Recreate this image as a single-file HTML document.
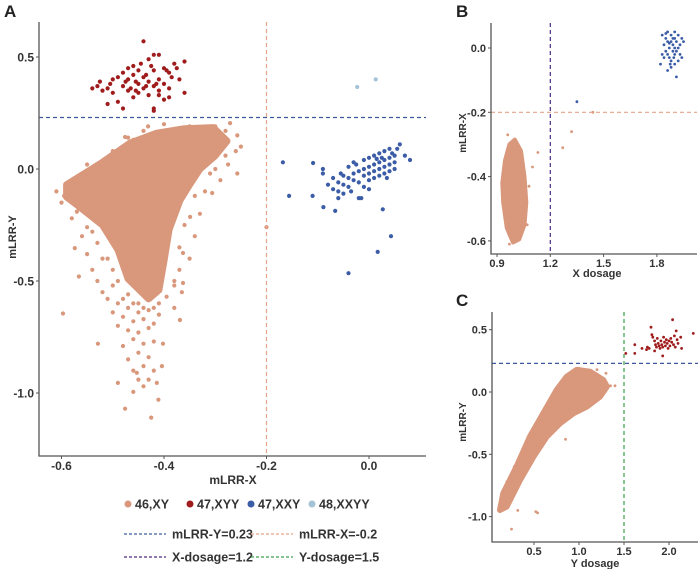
<!DOCTYPE html>
<html><head><meta charset="utf-8"><style>
html,body{margin:0;padding:0;background:#fff;}
svg{display:block;font-family:"Liberation Sans",sans-serif;font-weight:bold;}
</style></head><body>
<svg id="fig" width="700" height="569" viewBox="0 0 700 569">
<g id="pa"></g>
<g id="pb"></g>
<g id="pc"></g>
<g id="legend"></g>
</svg>
<script>
// ---------- Panel A data ----------
const aXTicks = [-0.6, -0.4, -0.2, 0.0];
const aYTicks = [0.5, 0.0, -0.5, -1.0];
const aOrangeBlob = [[-0.59,-0.07],[-0.52,0.03],[-0.466,0.116],[-0.414,0.16],[-0.36,0.18],[-0.304,0.185],[-0.277,0.125],[-0.30,0.06],[-0.33,0.0],[-0.35,-0.07],[-0.369,-0.14],[-0.39,-0.27],[-0.40,-0.41],[-0.41,-0.54],[-0.43,-0.58],[-0.47,-0.49],[-0.49,-0.36],[-0.52,-0.25],[-0.57,-0.16],[-0.59,-0.125]];
const aOrangePts = [[-0.597,-0.645],[-0.529,-0.78],[-0.566,-0.48],[-0.574,-0.353],[-0.61,-0.10],[-0.55,0.02],[-0.476,0.143],[-0.431,0.19],[-0.271,0.205],[-0.257,0.15],[-0.257,-0.02],[-0.275,0.02],[-0.306,-0.107],[-0.349,-0.214],[-0.363,-0.375],[-0.363,-0.509],[-0.38,-0.52],[-0.369,-0.674],[-0.402,-0.78],[-0.404,-0.88],[-0.411,-1.03],[-0.425,-1.11],[-0.476,-1.07],[-0.49,-0.955],[-0.46,-0.995],[-0.44,-0.97],[-0.453,-0.91],[-0.43,-0.94],[-0.414,-0.955],[-0.49,-0.6],[-0.47,-0.62],[-0.45,-0.6],[-0.43,-0.63],[-0.41,-0.6],[-0.48,-0.66],[-0.46,-0.68],[-0.44,-0.67],[-0.42,-0.69],[-0.47,-0.72],[-0.45,-0.73],[-0.43,-0.71],[-0.49,-0.7],[-0.46,-0.76],[-0.44,-0.78],[-0.48,-0.79],[-0.42,-0.77],[-0.45,-0.82],[-0.47,-0.85],[-0.43,-0.84],[-0.44,-0.88],[-0.46,-0.9],[-0.42,-0.9],[-0.45,-0.94],[-0.5,-0.64],[-0.51,-0.58],[-0.395,-0.57],[-0.38,-0.62],[-0.52,-0.55],[-0.53,-0.5],[-0.54,-0.45],[-0.52,-0.4],[-0.55,-0.38],[-0.56,-0.3],[-0.54,-0.28],[-0.58,-0.22],[-0.6,-0.15],[-0.595,-0.12],[-0.33,-0.2],[-0.34,-0.3],[-0.35,-0.4],[-0.37,-0.45],[-0.365,-0.55],[-0.32,-0.1],[-0.3,0.0],[-0.29,-0.05],[-0.26,0.08],[-0.25,0.1],[-0.3,0.19],[-0.35,0.19],[-0.4,0.2],[-0.46,0.13],[-0.5,0.05],[-0.53,-0.02],[-0.56,-0.05],[-0.2,-0.26],[-0.48,-0.58],[-0.44,-0.62],[-0.5,-0.52],[-0.41,-0.65],[-0.47,-0.56],[-0.43,-0.58],[-0.45,-0.64],[-0.46,-0.6],[-0.42,-0.62],[-0.49,-0.5],[-0.5,-0.45],[-0.51,-0.4],[-0.53,-0.33],[-0.55,-0.26],[-0.57,-0.19],[-0.38,-0.5],[-0.37,-0.35],[-0.36,-0.25],[-0.34,-0.12],[-0.31,-0.02],[-0.28,0.06],[-0.58,-0.05],[-0.54,0.0],[-0.5,0.08],[-0.47,0.14],[-0.44,0.17],[-0.28,0.17]];
const aRedPts = [[-0.44,0.57],[-0.42,0.51],[-0.41,0.51],[-0.36,0.48],[-0.38,0.47],[-0.46,0.46],[-0.47,0.45],[-0.43,0.49],[-0.45,0.44],[-0.42,0.44],[-0.40,0.45],[-0.39,0.43],[-0.37,0.40],[-0.48,0.43],[-0.49,0.41],[-0.50,0.40],[-0.47,0.40],[-0.46,0.42],[-0.44,0.41],[-0.43,0.39],[-0.41,0.40],[-0.40,0.38],[-0.42,0.37],[-0.45,0.38],[-0.48,0.37],[-0.51,0.36],[-0.53,0.37],[-0.54,0.36],[-0.52,0.35],[-0.50,0.34],[-0.47,0.35],[-0.44,0.36],[-0.41,0.35],[-0.39,0.36],[-0.36,0.34],[-0.43,0.33],[-0.46,0.32],[-0.49,0.30],[-0.51,0.29],[-0.48,0.27],[-0.42,0.26],[-0.42,0.27],[-0.40,0.31],[-0.39,0.32],[-0.45,0.34],[-0.455,0.39],[-0.435,0.42],[-0.415,0.38],[-0.475,0.39],[-0.505,0.38],[-0.525,0.39],[-0.465,0.36],[-0.385,0.41],[-0.395,0.44],[-0.425,0.46],[-0.445,0.47],[-0.375,0.45],[-0.435,0.37],[-0.455,0.35],[-0.41,0.33]];
const aBluePts = [[-0.168,0.03],[-0.156,-0.12],[-0.109,0.027],[-0.11,-0.12],[-0.089,-0.17],[-0.066,-0.187],[0.027,-0.18],[0.043,-0.30],[0.017,-0.37],[-0.04,-0.465],[-0.09,0.0],[-0.09,-0.02],[-0.08,-0.07],[-0.07,-0.09],[-0.06,-0.06],[-0.06,-0.1],[-0.05,-0.03],[-0.05,-0.07],[-0.05,-0.11],[-0.04,-0.04],[-0.04,0.01],[-0.04,-0.08],[-0.03,-0.02],[-0.03,-0.05],[-0.03,0.03],[-0.02,-0.01],[-0.02,-0.06],[-0.02,-0.13],[-0.01,0.0],[-0.01,-0.03],[-0.01,-0.08],[-0.01,0.04],[0.0,0.01],[0.0,-0.02],[0.0,-0.05],[0.0,0.05],[0.01,0.02],[0.01,-0.01],[0.01,-0.04],[0.01,0.06],[0.02,0.0],[0.02,0.03],[0.02,-0.03],[0.02,0.07],[0.03,0.01],[0.03,0.04],[0.03,-0.02],[0.03,0.08],[0.04,0.02],[0.04,0.05],[0.04,-0.01],[0.04,0.09],[0.05,0.03],[0.05,0.06],[0.05,0.0],[0.06,0.11],[0.07,0.06],[0.08,0.04],[-0.015,-0.13],[-0.06,-0.13],[0.045,0.07],[0.025,0.05],[-0.025,0.02],[0.035,-0.04],[0.0,-0.09],[-0.07,-0.04],[-0.055,-0.02],[0.015,0.045],[-0.035,-0.1],[0.055,0.09]];
const aLightBluePts = [[-0.023,0.366],[0.013,0.40]];
const aHLine = 0.23, aVLine = -0.2;

// ---------- Panel B data ----------
const bXTicks = [0.9, 1.2, 1.5, 1.8];
const bYTicks = [0.0, -0.2, -0.4, -0.6];
const bOrangeBlob = [[1.0,-0.285],[1.035,-0.32],[1.055,-0.40],[1.065,-0.48],[1.055,-0.55],[1.025,-0.595],[0.99,-0.605],[0.955,-0.56],[0.935,-0.48],[0.93,-0.42],[0.945,-0.35],[0.97,-0.30]];
const bOrangePts = [[1.32,-0.26],[1.27,-0.31],[1.13,-0.325],[1.44,-0.2],[0.96,-0.27],[1.1,-0.37],[1.07,-0.55],[0.97,-0.61],[1.08,-0.43]];
const bBluePts = [[1.83,0.04],[1.85,0.03],[1.86,0.05],[1.88,0.04],[1.9,0.05],[1.92,0.04],[1.94,0.03],[1.95,0.02],[1.84,0.01],[1.86,0.02],[1.87,0.0],[1.88,0.02],[1.89,0.01],[1.9,0.03],[1.91,0.02],[1.92,0.0],[1.93,0.01],[1.85,-0.01],[1.86,-0.02],[1.87,-0.03],[1.89,-0.01],[1.9,-0.02],[1.91,-0.01],[1.88,-0.04],[1.9,-0.05],[1.84,-0.03],[1.82,-0.05],[1.83,-0.02],[1.86,-0.07],[1.88,-0.06],[1.92,-0.04],[1.94,-0.03],[1.91,-0.09],[1.89,0.03],[1.87,0.015],[1.9,0.0],[1.93,-0.02],[1.85,0.045],[1.895,-0.03],[1.875,-0.05],[1.35,-0.167]];
const bHLine = -0.2, bVLine = 1.2;

// ---------- Panel C data ----------
const cXTicks = [0.5, 1.0, 1.5, 2.0];
const cYTicks = [0.5, 0.0, -0.5, -1.0];
const cOrangeBlob = [[0.122,-0.947],[0.159,-0.813],[0.307,-0.599],[0.456,-0.358],[0.603,-0.171],[0.752,0.016],[0.863,0.123],[0.974,0.177],[1.122,0.163],[1.27,0.096],[1.31,0.043],[1.233,-0.037],[1.085,-0.118],[0.937,-0.171],[0.789,-0.251],[0.641,-0.358],[0.493,-0.519],[0.344,-0.706],[0.196,-0.92]];
const cOrangePts = [[0.25,-1.1],[0.32,-0.95],[0.52,-0.96],[0.54,-0.97],[0.13,-0.95],[0.2,-0.72],[0.22,-0.8],[0.28,-0.6],[1.35,0.05],[1.4,0.05],[1.3,0.15],[1.2,0.18],[0.5,-0.35],[0.85,-0.38],[1.0,0.19]];
const cRedPts = [[1.52,0.31],[1.62,0.38],[1.62,0.31],[1.7,0.35],[1.75,0.34],[1.76,0.36],[1.78,0.35],[1.8,0.52],[1.81,0.46],[1.82,0.44],[1.84,0.41],[1.85,0.38],[1.86,0.36],[1.87,0.43],[1.88,0.39],[1.89,0.37],[1.9,0.35],[1.91,0.41],[1.92,0.38],[1.93,0.36],[1.94,0.44],[1.95,0.4],[1.96,0.37],[1.97,0.42],[1.98,0.39],[1.99,0.35],[2.0,0.41],[2.01,0.37],[2.02,0.43],[2.03,0.4],[2.04,0.58],[2.05,0.38],[2.06,0.45],[2.07,0.36],[2.08,0.49],[2.09,0.42],[2.1,0.39],[2.13,0.44],[2.14,0.35],[2.27,0.47],[1.93,0.29],[1.84,0.33]];
const cHLine = 0.23, cVLine = 1.5;

const ORANGE = "#d9977b", RED = "#a01c1c", BLUE = "#3b5ca6", LBLUE = "#a5c3d8";
const NS = "http://www.w3.org/2000/svg";
function mk(parent, tag, attrs, text) {
  const e = document.createElementNS(NS, tag);
  for (const k in attrs) e.setAttribute(k, attrs[k]);
  if (text !== undefined) e.textContent = text;
  parent.appendChild(e);
  return e;
}
function lin(d0, d1, r0, r1) { return v => r0 + (v - d0) / (d1 - d0) * (r1 - r0); }

function panel(g, cfg) {
  const X = cfg.x, Y = cfg.y;
  const pts = cfg.blob.map(p => X(p[0]).toFixed(1) + "," + Y(p[1]).toFixed(1)).join(" ");
  const poly = mk(g, "polygon", {points: pts, fill: ORANGE, stroke: ORANGE, "stroke-width": cfg.blobStroke, "stroke-linejoin": "round"});
  
  
  cfg.series.forEach(s => {
    s.data.forEach(p => {
      const c = mk(g, "circle", {cx: X(p[0]).toFixed(1), cy: Y(p[1]).toFixed(1), r: cfg.r, fill: s.color});
      
      
    });
  });
  const hl = mk(g, "line", {x1: cfg.x0, x2: cfg.x1, y1: Y(cfg.h.v), y2: Y(cfg.h.v), stroke: cfg.h.color, "stroke-width": 1.2, "stroke-dasharray": "4,3"});
  
  
  const vl = mk(g, "line", {x1: X(cfg.v.v), x2: X(cfg.v.v), y1: cfg.y0, y2: cfg.y1, stroke: cfg.v.color, "stroke-width": 1.2, "stroke-dasharray": "4,3"});
  
  
  const ax = mk(g, "path", {d: `M${cfg.x0},${cfg.y0}V${cfg.y1}H${cfg.x1}`, fill: "none", stroke: "#555", "stroke-width": 1.3});
  
  
  cfg.xt.forEach(t => {
    mk(g, "line", {x1: X(t), x2: X(t), y1: cfg.y1, y2: cfg.y1 + 3, stroke: "#555"});
    const tx = mk(g, "text", {x: X(t), y: cfg.y1 + cfg.fs + 2, "text-anchor": "middle", "font-size": cfg.fs, fill: "#333"}, t.toFixed(1));
    
    
  });
  cfg.yt.forEach(t => {
    mk(g, "line", {x1: cfg.x0 - 3, x2: cfg.x0, y1: Y(t), y2: Y(t), stroke: "#555"});
    const tx = mk(g, "text", {x: cfg.x0 - 5, y: Y(t) + cfg.fs * 0.36, "text-anchor": "end", "font-size": cfg.fs, fill: "#333"}, t.toFixed(1));
    
    
  });
  const xl = mk(g, "text", {x: cfg.xl[0], y: cfg.xl[1], "text-anchor": "middle", "font-size": cfg.fs, fill: "#333"}, cfg.xlabel);
  
  
  const yl = mk(g, "text", {x: 0, y: 0, transform: `translate(${cfg.yl[0]},${cfg.yl[1]}) rotate(-90)`, "text-anchor": "middle", "font-size": cfg.fs - 1, fill: "#333"}, cfg.ylabel);
  
  
  const pl = mk(g, "text", {x: cfg.pl[0], y: cfg.pl[1], "font-size": 17, fill: "#222"}, cfg.letter);
  
  
}

panel(document.getElementById("pa"), {
  x: lin(0, 0.2, 369, 471.5), y: lin(0, 0.5, 169, 57), x0: 39, x1: 426, y0: 22, y1: 456,
  blob: aOrangeBlob, blobStroke: 7, r: 2.1,
  series: [{data: aOrangePts, color: ORANGE, name: 'point-46xy'}, {data: aRedPts, color: RED, name: 'point-47xyy'}, {data: aBluePts, color: BLUE, name: 'point-47xxy'}, {data: aLightBluePts, color: LBLUE, name: 'point-48xxyy'}],
  h: {v: aHLine, color: "#3d5aa0"}, v: {v: aVLine, color: "#e5a487"},
  xt: aXTicks, yt: aYTicks, fs: 12, xl: [233, 484], xlabel: "mLRR-X", yl: [16, 237], ylabel: "mLRR-Y", pl: [4, 17], letter: "A"
});
panel(document.getElementById("pb"), {
  x: lin(0.9, 1.2, 497, 550.3), y: lin(0, -0.2, 48, 112.3), x0: 491, x1: 697, y0: 23, y1: 254,
  blob: bOrangeBlob, blobStroke: 4, r: 1.4,
  series: [{data: bOrangePts, color: ORANGE, name: 'point-46xy'}, {data: bBluePts, color: BLUE, name: 'point-47xxy'}],
  h: {v: bHLine, color: "#e5a487"}, v: {v: bVLine, color: "#4a2a82"},
  xt: bXTicks, yt: bYTicks, fs: 11, xl: [597, 277], xlabel: "X dosage", yl: [466, 133], ylabel: "mLRR-X", pl: [456, 17], letter: "B"
});
panel(document.getElementById("pc"), {
  x: lin(0.5, 1.0, 534, 579), y: lin(0, 0.5, 392, 329.7), x0: 492, x1: 698, y0: 312, y1: 542,
  blob: cOrangeBlob, blobStroke: 6, r: 1.4,
  series: [{data: cOrangePts, color: ORANGE, name: 'point-46xy'}, {data: cRedPts, color: RED, name: 'point-47xyy'}],
  h: {v: cHLine, color: "#3d5aa0"}, v: {v: cVLine, color: "#3aa04a"},
  xt: cXTicks, yt: cYTicks, fs: 11, xl: [595, 567], xlabel: "Y dosage", yl: [466, 422], ylabel: "mLRR-Y", pl: [456, 306], letter: "C"
});

// ---------- Legend ----------
const legPts = [["46,XY", ORANGE, 128], ["47,XYY", RED, 190], ["47,XXY", BLUE, 251], ["48,XXYY", LBLUE, 312]];
const legLines = [["mLRR-Y=0.23", "#3d5aa0", 124, 534], ["mLRR-X=-0.2", "#e5a487", 251, 534], ["X-dosage=1.2", "#4a2a82", 124, 557], ["Y-dosage=1.5", "#3aa04a", 251, 557]];
const lg = document.getElementById("legend");
legPts.forEach(l => {
  const c = mk(lg, "circle", {cx: l[2], cy: 504, r: 3.5, fill: l[1]});
  
  
  const t = mk(lg, "text", {x: l[2] + 7, y: 508.5, "font-size": 12.5, fill: "#333"}, l[0]);
  
  
});
legLines.forEach(l => {
  const ln = mk(lg, "line", {x1: l[2], x2: l[2] + 42, y1: l[3], y2: l[3], stroke: l[1], "stroke-width": 1.2, "stroke-dasharray": "3,2"});
  
  
  const t = mk(lg, "text", {x: l[2] + 48, y: l[3] + 4.5, "font-size": 12.5, fill: "#333"}, l[0]);
  
  
});
</script>
</body></html>
